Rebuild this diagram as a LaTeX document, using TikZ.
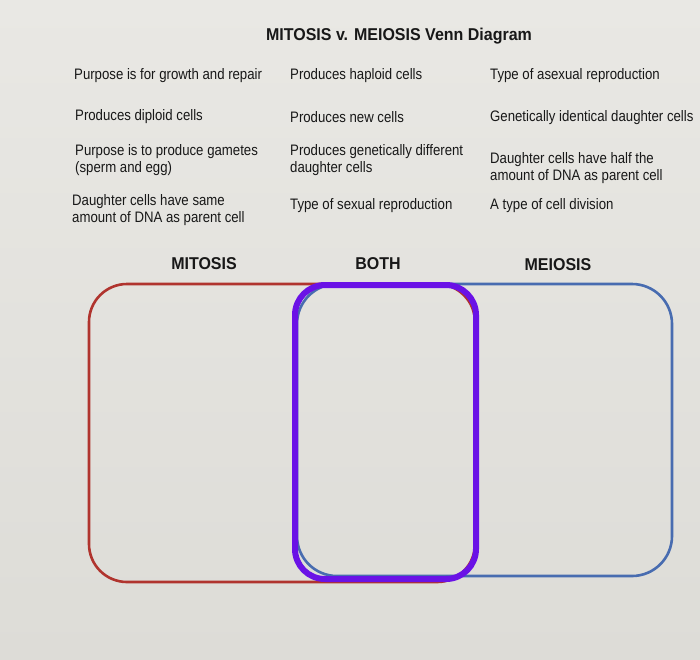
\documentclass[tikz,border=0pt]{standalone}
\usepackage{fontspec}
\setmainfont{Liberation Sans}
\definecolor{paper}{RGB}{233,232,228}
\definecolor{paperdark}{RGB}{221,220,215}
\definecolor{ink}{RGB}{24,24,24}
\definecolor{mitred}{RGB}{176,52,46}
\definecolor{meiblue}{RGB}{72,108,176}
\definecolor{bothviolet}{RGB}{106,18,230}

\begin{document}
\begin{tikzpicture}[x=1pt,y=-1pt,
        item/.style={anchor=west,align=left,inner sep=0pt,text=ink,yscale=1.15,
            font=\fontsize{13.2}{15}\selectfont},
        head/.style={inner sep=0pt,text=ink,yscale=1.07,
            font=\fontsize{16}{19}\selectfont\bfseries}]
            \shade[top color=paper,bottom color=paperdark] (0,0) rectangle (700,659);
            \node[head] (title) at (399,36) {MITOSIS v. MEIOSIS Venn Diagram};
            % first column
            \node[item] (a1) at (74,76) {Purpose is for growth and repair};
            \node[item] (a2) at (75,117) {Produces diploid cells};
            \node[item] (a3) at (75,160) {Purpose is to produce gametes\\(sperm and egg)};
            \node[item] (a4) at (72,210) {Daughter cells have same\\amount of DNA as parent cell};
            % second column
            \node[item] (b1) at (290,76) {Produces haploid cells};
            \node[item] (b2) at (290,117) {Produces new cells};
            \node[item] (b3) at (290,160) {Produces genetically different\\daughter cells};
            \node[item] (b4) at (290,206) {Type of sexual reproduction};
            % third column
            \node[item] (c1) at (490,76) {Type of asexual reproduction};
            \node[item] (c2) at (490,118) {Genetically identical daughter cells};
            \node[item] (c3) at (490,168) {Daughter cells have half the\\amount of DNA as parent cell};
            \node[item] (c4) at (490,206) {A type of cell division};
            % the three boxes
            \node[head] (mitosis) at (204,264) {MITOSIS};
            \node[head] (both) at (378,264) {BOTH};
            \node[head] (meiosis) at (558,265) {MEIOSIS};
            \draw[mitred,line width=2.6,rounded corners=38] (89,284) rectangle (475,582);
            \draw[meiblue,line width=2.6,rounded corners=40] (297,284) rectangle (672,576);
            \draw[bothviolet,line width=6,rounded corners=30] (295,285) rectangle (476,579);
        \end{tikzpicture}
\end{document}
